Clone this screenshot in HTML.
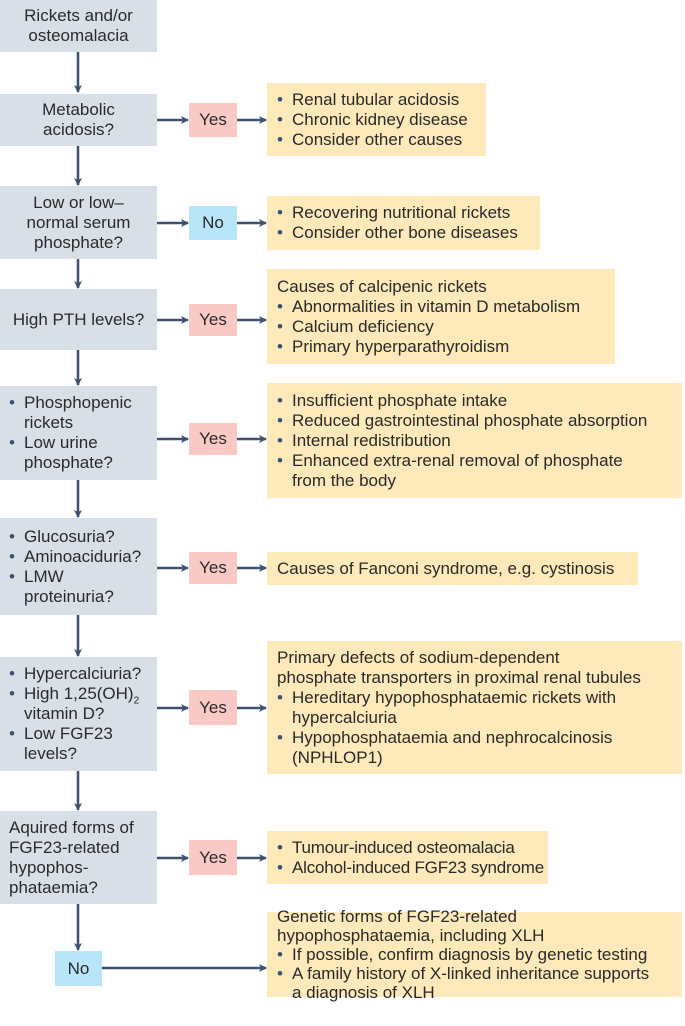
<!DOCTYPE html>
<html><head><meta charset="utf-8"><style>
body{margin:0;width:685px;height:1026px;position:relative;background:#fff;font-family:"Liberation Sans",sans-serif;font-size:17px;color:#2a2a2a;line-height:20px;overflow:hidden}
.b{position:absolute;box-sizing:border-box;white-space:nowrap}
.g{background:#d9dfe7}
.gc{display:flex;align-items:center;justify-content:center;text-align:center}
.gl{display:flex;align-items:center;padding-left:9px}
.p{background:#f9c9c5;display:flex;align-items:center;justify-content:center}
.c{background:#b9e5f9;display:flex;align-items:center;justify-content:center}
.y{background:#fde9b9;display:flex;flex-direction:column;justify-content:center;padding-left:10px}
ul{margin:0;padding:0;list-style:none}
li{position:relative;padding-left:15px}
li:before{content:"•";position:absolute;left:0;top:0;color:#3d5170}
svg{position:absolute;left:0;top:0}
sub{font-size:10px;line-height:0}
</style></head><body>
<svg width="685" height="1026">
<defs><marker id="a" markerWidth="8" markerHeight="8" refX="7" refY="4" orient="auto" markerUnits="userSpaceOnUse"><path d="M0,0 L8,4 L0,8 L2,4z" fill="#3d5170"/></marker></defs>
<g stroke="#3d5170" stroke-width="2.5" fill="none" marker-end="url(#a)">
<line x1="78" y1="52" x2="78" y2="92"/>
<line x1="78" y1="146" x2="78" y2="185"/>
<line x1="78" y1="259" x2="78" y2="288"/>
<line x1="78" y1="350" x2="78" y2="385"/>
<line x1="78" y1="480" x2="78" y2="517"/>
<line x1="78" y1="615" x2="78" y2="656"/>
<line x1="78" y1="771" x2="78" y2="810"/>
<line x1="78" y1="904" x2="78" y2="950"/>
<line x1="157" y1="120" x2="188" y2="120"/><line x1="237" y1="120" x2="266" y2="120"/>
<line x1="157" y1="223" x2="188" y2="223"/><line x1="237" y1="223" x2="266" y2="223"/>
<line x1="157" y1="320" x2="188" y2="320"/><line x1="237" y1="320" x2="266" y2="320"/>
<line x1="157" y1="439" x2="188" y2="439"/><line x1="237" y1="439" x2="266" y2="439"/>
<line x1="157" y1="568" x2="188" y2="568"/><line x1="237" y1="568" x2="266" y2="568"/>
<line x1="157" y1="708" x2="188" y2="708"/><line x1="237" y1="708" x2="266" y2="708"/>
<line x1="157" y1="858" x2="188" y2="858"/><line x1="237" y1="858" x2="266" y2="858"/>
<line x1="102" y1="968" x2="266" y2="968"/>
</g></svg>

<div class="b g gc" style="left:0;top:0;width:157px;height:52px">Rickets and/or<br>osteomalacia</div>
<div class="b g gc" style="left:0;top:94px;width:157px;height:52px">Metabolic<br>acidosis?</div>
<div class="b g gc" style="left:0;top:186px;width:157px;height:73px">Low or low–<br>normal serum<br>phosphate?</div>
<div class="b g gc" style="left:0;top:289px;width:157px;height:61px">High PTH levels?</div>
<div class="b g gl" style="left:0;top:386px;width:157px;height:94px"><ul><li>Phosphopenic<br>rickets</li><li>Low urine<br>phosphate?</li></ul></div>
<div class="b g gl" style="left:0;top:518px;width:157px;height:97px"><ul><li>Glucosuria?</li><li>Aminoaciduria?</li><li>LMW<br>proteinuria?</li></ul></div>
<div class="b g gl" style="left:0;top:657px;width:157px;height:114px"><ul><li>Hypercalciuria?</li><li>High 1,25(OH)<sub>2</sub><br>vitamin D?</li><li>Low FGF23<br>levels?</li></ul></div>
<div class="b g gl" style="left:0;top:811px;width:157px;height:93px">Aquired forms of<br>FGF23-related<br>hypophos-<br>phataemia?</div>

<div class="b p" style="left:189px;top:103px;width:48px;height:34px">Yes</div>
<div class="b c" style="left:189px;top:206px;width:48px;height:34px">No</div>
<div class="b p" style="left:189px;top:304px;width:48px;height:32px">Yes</div>
<div class="b p" style="left:189px;top:423px;width:48px;height:32px">Yes</div>
<div class="b p" style="left:189px;top:552px;width:48px;height:32px">Yes</div>
<div class="b p" style="left:189px;top:690px;width:48px;height:35px">Yes</div>
<div class="b p" style="left:189px;top:840px;width:48px;height:35px">Yes</div>
<div class="b c" style="left:55px;top:951px;width:47px;height:35px">No</div>

<div class="b y" style="left:267px;top:83px;width:219px;height:73px"><ul><li>Renal tubular acidosis</li><li>Chronic kidney disease</li><li>Consider other causes</li></ul></div>
<div class="b y" style="left:267px;top:196px;width:273px;height:54px"><ul><li>Recovering nutritional rickets</li><li>Consider other bone diseases</li></ul></div>
<div class="b y" style="left:267px;top:269px;width:348px;height:95px"><div>Causes of calcipenic rickets</div><ul><li>Abnormalities in vitamin D metabolism</li><li>Calcium deficiency</li><li>Primary hyperparathyroidism</li></ul></div>
<div class="b y" style="left:267px;top:383px;width:415px;height:115px"><ul><li>Insufficient phosphate intake</li><li>Reduced gastrointestinal phosphate absorption</li><li>Internal redistribution</li><li>Enhanced extra-renal removal of phosphate<br>from the body</li></ul></div>
<div class="b y" style="left:267px;top:552px;width:371px;height:33px"><div>Causes of Fanconi syndrome, e.g. cystinosis</div></div>
<div class="b y" style="left:267px;top:641px;width:415px;height:133px"><div>Primary defects of sodium-dependent<br>phosphate transporters in proximal renal tubules</div><ul><li>Hereditary hypophosphataemic rickets with<br>hypercalciuria</li><li>Hypophosphataemia and nephrocalcinosis<br>(NPHLOP1)</li></ul></div>
<div class="b y" style="left:267px;top:831px;width:281px;height:53px;letter-spacing:-0.2px"><ul><li>Tumour-induced osteomalacia</li><li>Alcohol-induced FGF23 syndrome</li></ul></div>
<div class="b y" style="left:267px;top:912px;width:415px;height:85px;line-height:19px"><div>Genetic forms of FGF23-related<br>hypophosphataemia, including XLH</div><ul><li>If possible, confirm diagnosis by genetic testing</li><li>A family history of X-linked inheritance supports<br>a diagnosis of XLH</li></ul></div>
</body></html>
